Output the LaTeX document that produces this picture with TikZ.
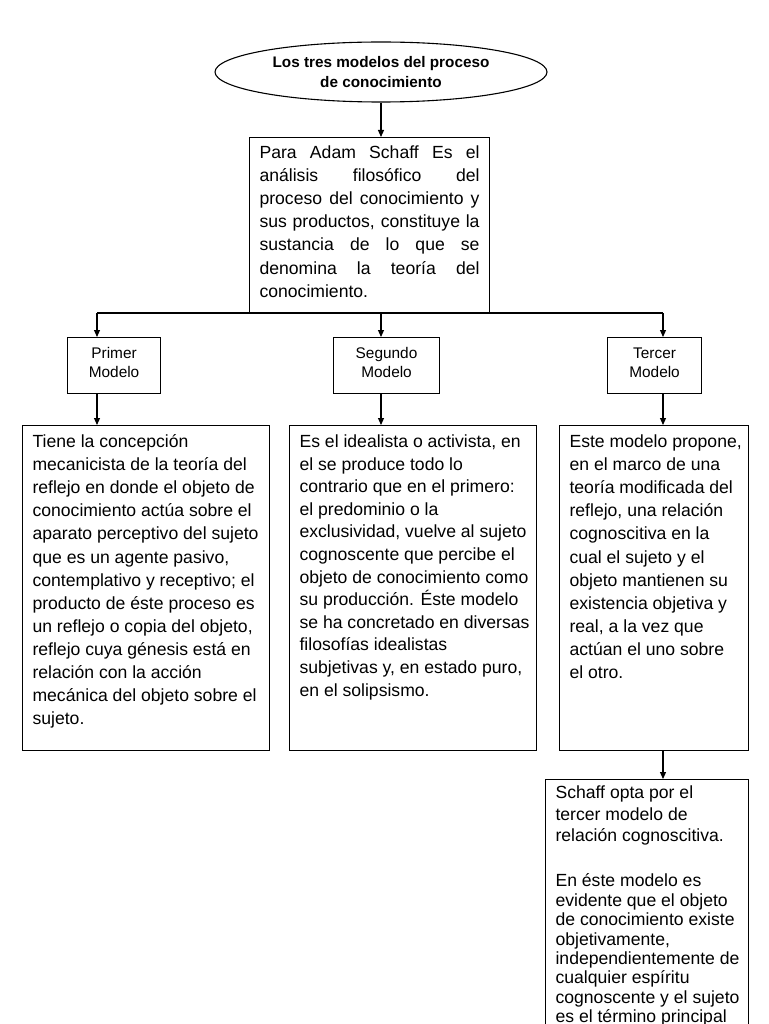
\documentclass[tikz,border=0pt]{standalone}
\usepackage{fontspec}
\setmainfont{Liberation Sans}
\usetikzlibrary{arrows.meta,shapes.geometric}
\newcommand\cardin[5]{\hspace*{10pt}\begin{minipage}[t][#3][t]{#2}\rule{0pt}{#4}#5\end{minipage}\hspace*{\dimexpr#1-#2-10pt\relax}}
\begin{document}
\begin{tikzpicture}[x=1pt,y=-1pt,
  line/.style={line width=1.1pt},
  arr/.style={line width=1.1pt,-{Triangle[length=7pt,width=6pt]}},
  card/.style={draw,line width=1.1pt,inner sep=0pt,anchor=north west,font=\fontsize{17.6pt}{23.1pt}\selectfont},
  head/.style={draw,line width=1.1pt,inner sep=0pt,anchor=north west,minimum height=56pt,align=center,font=\fontsize{15.4pt}{19pt}\selectfont},
  title/.style={draw,ellipse,line width=1.1pt,inner sep=0pt,minimum width=332pt,minimum height=60pt,align=center,font=\bfseries\fontsize{15.3pt}{20pt}\selectfont}]
\fill[white] (0,0) rectangle (768,1024);
\useasboundingbox (0,0) rectangle (768,1024);
\clip (0,0) rectangle (768,1024);

\node[title] (t) at (381,72) {Los tres modelos del proceso\\de conocimiento};

\node[card] (p) at (249,137) {\cardin{240pt}{220pt}{176pt}{21pt}{\tolerance=10000\hbadness=10000\hyphenpenalty=10000\exhyphenpenalty=10000 Para Adam Schaff Es el\linebreak análisis filosófico del\linebreak proceso del conocimiento y\linebreak sus productos, constituye la\linebreak sustancia de lo que se\linebreak denomina la teoría del\linebreak conocimiento.}};

\node[head, minimum width=93pt] (a) at (67,337) {Primer\\Modelo\rule[-6pt]{0pt}{0pt}};
\node[head, minimum width=106pt] (b) at (333,337) {Segundo\\Modelo\rule[-6pt]{0pt}{0pt}};
\node[head, minimum width=94pt] (c) at (607,337) {Tercer\\Modelo\rule[-6pt]{0pt}{0pt}};

\node[card] (b1) at (22,425) {\cardin{247pt}{237pt}{325pt}{22pt}{\raggedright Tiene la concepción\\
mecanicista de la teoría del\\
reflejo en donde el objeto de\\
conocimiento actúa sobre el\\
aparato perceptivo del sujeto\\
que es un agente pasivo,\\
contemplativo y receptivo; el\\
producto de éste proceso es\\
un reflejo o copia del objeto,\\
reflejo cuya génesis está en\\
relación con la acción\\
mecánica del objeto sobre el\\
sujeto.}};

\node[card, font=\fontsize{17.6pt}{22.6pt}\selectfont] (b2) at (289,425) {\cardin{247pt}{237pt}{325pt}{22pt}{\raggedright Es el idealista o activista, en\\
el se produce todo lo\\
contrario que en el primero:\\
el predominio o la\\
exclusividad, vuelve al sujeto\\
cognoscente que percibe el\\
objeto de conocimiento como\\
su producción. Éste modelo\\
se ha concretado en diversas\\
filosofías idealistas\\
subjetivas y, en estado puro,\\
en el solipsismo.}};

\node[card] (b3) at (559,425) {\cardin{189pt}{179pt}{325pt}{22pt}{\raggedright Este modelo propone,\\
en el marco de una\\
teoría modificada del\\
reflejo, una relación\\
cognoscitiva en la\\
cual el sujeto y el\\
objeto mantienen su\\
existencia objetiva y\\
real, a la vez que\\
actúan el uno sobre\\
el otro.}};

\node[card, font=\fontsize{17.6pt}{19.4pt}\selectfont] (b4) at (545,779) {\cardin{203pt}{193pt}{330pt}{19pt}{\raggedright Schaff opta por el\\[2.3pt]
tercer modelo de\\[2.3pt]
relación cognoscitiva.\\[25.6pt]
En éste modelo es\\
evidente que el objeto\\
de conocimiento existe\\
objetivamente,\\
independientemente de\\
cualquier espíritu\\
cognoscente y el sujeto\\
es el término principal}};

\coordinate (jA) at (97,313);
\coordinate (jB) at (381,313);
\coordinate (jC) at (663,313);

\draw[arr] (t.south) -- (t.south |- p.north);
\draw[line] (jA) -- (jC);
\draw[arr] (jA) -- (jA |- a.north);
\draw[arr] (jB) -- (jB |- b.north);
\draw[arr] (jC) -- (jC |- c.north);
\draw[arr] (jA |- a.south) -- (jA |- b1.north);
\draw[arr] (jB |- b.south) -- (jB |- b2.north);
\draw[arr] (jC |- c.south) -- (jC |- b3.north);
\draw[arr] (jC |- b3.south) -- (jC |- b4.north);
\end{tikzpicture}
\end{document}
